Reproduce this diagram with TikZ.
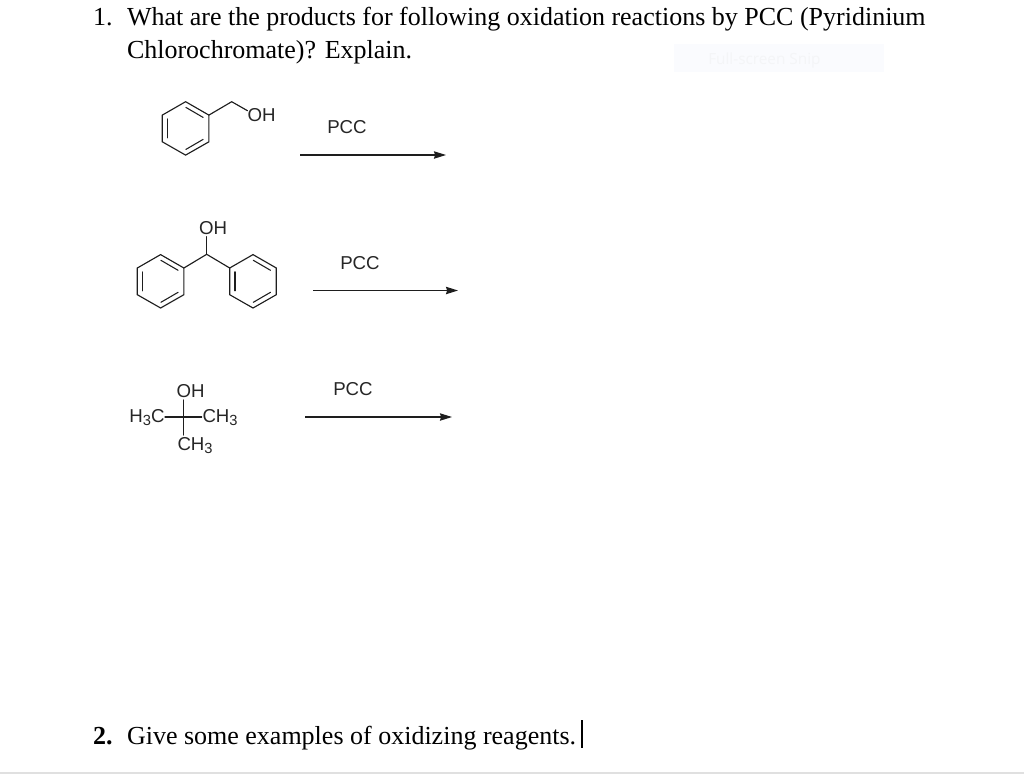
\documentclass[tikz,border=0pt]{standalone}
\usepackage{fontspec}
\setmainfont{Liberation Serif}
\newfontfamily\chemfont{Liberation Sans}
\newfontfamily\snipfont{Open Sans}
\usetikzlibrary{arrows.meta}
\definecolor{bondgray}{HTML}{1E1E1E}
\definecolor{snipbox}{HTML}{FAFBFE}
\definecolor{sniptext}{HTML}{F4F5F7}
\tikzset{
  x=0.75pt,y=-0.75pt,
  bond/.style={draw=bondgray,line width=0.85pt,line cap=round,line join=miter},
  innerbond/.style={draw=bondgray,line width=0.8pt,line cap=round},
  rxnarrow/.style={draw=bondgray,line width=0.85pt,-{Stealth[length=9pt,width=5.5pt,inset=0.8pt]}},
  chem/.style={inner sep=0pt,outer sep=0pt,font=\chemfont\fontsize{14pt}{15pt}\selectfont,text=black!85},
  body/.style={inner sep=0pt,outer sep=0pt,anchor=base west,font=\fontsize{19.5pt}{22pt}\selectfont,text=black},
}
\newcommand{\chemsub}[1]{\raisebox{-2.3pt}{\fontsize{11pt}{12pt}\selectfont #1}}
% ring: name prefix, centre x, centre y
\newcommand{\benzring}[3]{%
  \coordinate (#1t) at (#2,#3-26.7);
  \coordinate (#1ur) at (#2+23.3,#3-13.3);
  \coordinate (#1lr) at (#2+23.3,#3+13.4);
  \coordinate (#1b) at (#2,#3+26.7);
  \coordinate (#1ll) at (#2-23.3,#3+13.4);
  \coordinate (#1ul) at (#2-23.3,#3-13.3);
  \draw[bond] (#1t)--(#1ur)--(#1lr)--(#1b)--(#1ll)--(#1ul)--cycle;
  \draw[innerbond] (#2-18,#3-9.5)--(#2-18,#3+9.5);
  \draw[innerbond] (#2+0.3,#3-21)--(#2+17.5,#3-11);
  \draw[innerbond] (#2+0.3,#3+21)--(#2+17.5,#3+11);
}
\begin{document}
\begin{tikzpicture}
\useasboundingbox (0,0) rectangle (1024,779);
\fill[white] (0,0) rectangle (1024,779);

% question text
\node[body] (q1a) at (93,25) {1.};
\node[body] (q1b) at (127,25) {What are the products for following oxidation reactions by PCC (Pyridinium};
\node[body] (q1c) at (127,58) {Chlorochromate)? Explain.};
\node[body] (q2a) at (93,744) {\textbf{2.}};
\node[body] (q2b) at (127,744) {Give some examples of oxidizing reagents.};
\draw[black,line width=0.9pt] (582,720)--(582,748);

% faint overlay
\fill[snipbox] (674,44) rectangle (884,72);
\node[inner sep=0pt,anchor=base west,text=sniptext,font=\snipfont\fontsize{11.5pt}{13pt}\selectfont] (snip) at (708,64) {Full-screen Snip};

% bottom rule
\fill[black!12] (0,772) rectangle (1024,774);

% benzyl alcohol
\benzring{a}{185.6}{128.4}
\coordinate (ach) at (231.7,101.7);
\node[chem] (aoh) at (261.5,115) {OH};
\draw[bond] (aur)--(ach)--(247.5,110.7);

% benzhydrol
\benzring{b}{160.6}{281.3}
\benzring{c}{253}{281.3}
\coordinate (bch) at (206.7,254.3);
\node[chem] (boh) at (213,227.8) {OH};
\draw[bond] (bur)--(bch)--(cul);
\draw[bond] (bch)--(206.7,236.7);

% tert-butanol
\coordinate (tc) at (183.3,417);
\node[chem] (toh) at (190.5,390.7) {OH};
\node[chem,anchor=east] (tl) at (164.5,417.5) {H\chemsub{3}C};
\node[chem,anchor=west] (tr) at (202.5,417.5) {CH\chemsub{3}};
\node[chem,anchor=west] (tb) at (177.5,445.5) {CH\chemsub{3}};
\draw[bond] (183.3,400)--(183.3,435);
\draw[bond] (165,417)--(201.7,417);

% reagents and arrows
\node[chem] (p1) at (347,127) {PCC};
\node[chem] (p2) at (360,263) {PCC};
\node[chem] (p3) at (353,389.5) {PCC};
\coordinate (a1s) at (300,155);\coordinate (a1e) at (446,155);
\coordinate (a2s) at (313,290.5);\coordinate (a2e) at (458,290.5);
\coordinate (a3s) at (305,417);\coordinate (a3e) at (452,417);
\draw[rxnarrow] (a1s)--(a1e);
\draw[rxnarrow] (a2s)--(a2e);
\draw[rxnarrow] (a3s)--(a3e);
\end{tikzpicture}
\end{document}
